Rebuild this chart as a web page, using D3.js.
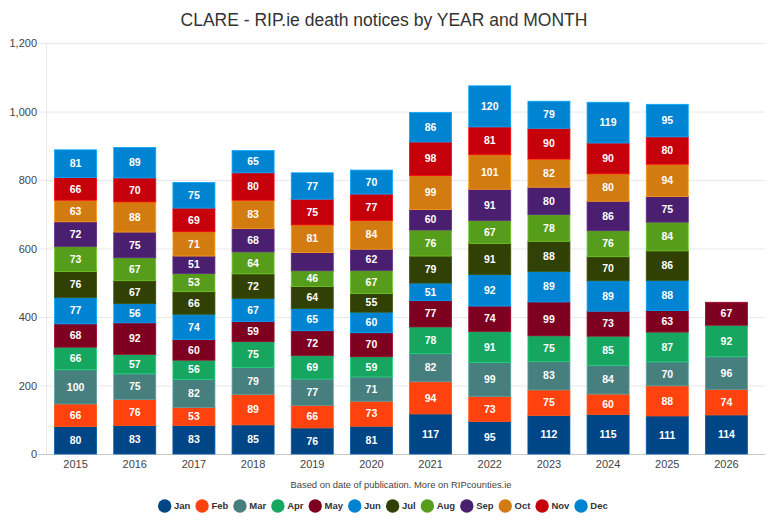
<!DOCTYPE html>
<html>
<head>
<meta charset="utf-8">
<script src="https://cdn.jsdelivr.net/npm/d3@7"></script>
<style>
  body { margin: 0; background: #fff; }
  svg { font-family: "Liberation Sans", Arial, Helvetica, sans-serif; }
</style>
</head>
<body>
<svg id="chart" width="768" height="530"></svg>
<script>
const years = ['2015', '2016', '2017', '2018', '2019', '2020', '2021', '2022', '2023', '2024', '2025', '2026'];
const months = ['Jan', 'Feb', 'Mar', 'Apr', 'May', 'Jun', 'Jul', 'Aug', 'Sep', 'Oct', 'Nov', 'Dec'];
const monthColors = ['#004586', '#ff420e', '#477e7e', '#17a660', '#7e0021', '#0084d1',
  '#314004', '#579d1c', '#4b1f6f', '#d27b10', '#c5000b', '#0084d1'];

// one array per month, values by year (2026 only partial)
const jan = [80, 83, 83, 85, 76, 81, 117, 95, 112, 115, 111, 114];
const feb = [66, 76, 53, 89, 66, 73, 94, 73, 75, 60, 88, 74];
const mar = [100, 75, 82, 79, 77, 71, 82, 99, 83, 84, 70, 96];
const apr = [66, 57, 56, 75, 69, 59, 78, 91, 75, 85, 87, 92];
const may = [68, 92, 60, 59, 72, 70, 77, 74, 99, 73, 63, 67];
const jun = [77, 56, 74, 67, 65, 60, 51, 92, 89, 89, 88, 0];
const jul = [76, 67, 66, 72, 64, 55, 79, 91, 88, 70, 86, 0];
const aug = [73, 67, 53, 64, 46, 67, 76, 67, 78, 76, 84, 0];
const sep = [72, 75, 51, 68, 53, 62, 60, 91, 80, 86, 75, 0];
const oct = [63, 88, 71, 83, 81, 84, 99, 101, 82, 80, 94, 0];
const nov = [66, 70, 69, 80, 75, 77, 98, 81, 90, 90, 80, 0];
const dec = [81, 89, 75, 65, 77, 70, 86, 120, 79, 119, 95, 0];
const series = [jan, feb, mar, apr, may, jun, jul, aug, sep, oct, nov, dec];

// labels that the original chart leaves out
const hiddenLabels = ['2019-Sep'];

const yTicks = [0, 200, 400, 600, 800, 1000, 1200];

const svg = d3.select('#chart');
const margin = { top: 43, right: 12, bottom: 76, left: 46 };
const width = 768;
const height = 530;

const rows = years.map((y, i) => {
  const row = { year: y };
  months.forEach((m, j) => { row[m] = series[j][i]; });
  return row;
});

const stacked = d3.stack().keys(months)(rows);

const x = d3.scaleBand()
  .domain(years)
  .range([margin.left, 756])
  .paddingInner(0.29)
  .paddingOuter(0.145);

const y = d3.scaleLinear()
  .domain([0, 1200])
  .range([height - margin.bottom, margin.top]);

const color = d3.scaleOrdinal().domain(months).range(monthColors);

// grid
svg.append('g')
  .selectAll('line')
  .data(yTicks)
  .join('line')
  .attr('x1', margin.left - 8)
  .attr('x2', width - 3)
  .attr('y1', d => y(d) + 0.5)
  .attr('y2', d => y(d) + 0.5)
  .style('stroke', d => d === 0 ? '#c8c8c8' : '#e8e8e8')
  .style('stroke-width', 1);

svg.append('line')
  .attr('x1', margin.left + 0.5)
  .attr('x2', margin.left + 0.5)
  .attr('y1', y(1200))
  .attr('y2', y(0))
  .style('stroke', '#e8e8e8');

// y axis labels
const yAxis = svg.append('g')
  .attr('transform', `translate(${margin.left - 9},0)`)
  .call(d3.axisLeft(y).tickValues(yTicks).tickSize(0).tickPadding(0).tickFormat(d3.format(',')));
yAxis.select('.domain').remove();
yAxis.selectAll('text')
  .style('font-size', '11px')
  .style('fill', '#444');

// x axis labels
const xAxis = svg.append('g')
  .attr('transform', `translate(0,${y(0) + 6})`)
  .call(d3.axisBottom(x).tickSize(0).tickPadding(0));
xAxis.select('.domain').remove();
xAxis.selectAll('text')
  .attr('dy', '0.71em')
  .style('font-size', '11px')
  .style('fill', '#444');

// bars
const layers = svg.append('g')
  .selectAll('g')
  .data(stacked)
  .join('g')
  .style('fill', d => color(d.key));

layers.selectAll('rect')
  .data(d => d.map(p => ({ key: d.key, year: p.data.year, y0: p[0], y1: p[1] })))
  .join('rect')
  .filter(d => d.y1 > d.y0)
  .attr('x', d => x(d.year))
  .attr('y', d => y(d.y1))
  .attr('width', x.bandwidth())
  .attr('height', d => y(d.y0) - y(d.y1))
  .style('stroke', d => d3.color(color(d.key)).brighter(0.7))
  .style('stroke-width', 0.8);

const labels = svg.append('g');
stacked.forEach(layer => {
  layer.forEach(p => {
    const v = p[1] - p[0];
    if (v <= 0 || hiddenLabels.includes(`${p.data.year}-${layer.key}`)) return;
    labels.append('text')
      .attr('x', x(p.data.year) + x.bandwidth() / 2)
      .attr('y', (y(p[0]) + y(p[1])) / 2)
      .attr('dy', '0.35em')
      .style('text-anchor', 'middle')
      .style('font-size', '10.5px')
      .style('font-weight', 'bold')
      .style('fill', '#fff')
      .text(v);
  });
});

// title
svg.append('text')
  .attr('x', 384)
  .attr('y', 26)
  .style('text-anchor', 'middle')
  .style('font-size', '17.5px')
  .style('fill', '#333')
  .text('CLARE - RIP.ie death notices by YEAR and MONTH');

svg.append('text')
  .attr('x', 401)
  .attr('y', 488)
  .style('text-anchor', 'middle')
  .style('font-size', '9.4px')
  .style('fill', '#444')
  .text('Based on date of publication. More on RIPcounties.ie');

// legend
const legend = svg.append('g').attr('transform', 'translate(158,506)');
let lx = 0;
months.forEach(m => {
  legend.append('circle')
    .attr('cx', lx + 6.7)
    .attr('cy', 0)
    .attr('r', 6.7)
    .style('fill', color(m));
  const t = legend.append('text')
    .attr('x', lx + 16)
    .attr('y', 0)
    .attr('dy', '0.35em')
    .style('font-size', '9.5px')
    .style('font-weight', 'bold')
    .style('fill', '#333')
    .text(m);
  lx += 16 + t.node().getComputedTextLength() + 5;
});
</script>
</body>
</html>
